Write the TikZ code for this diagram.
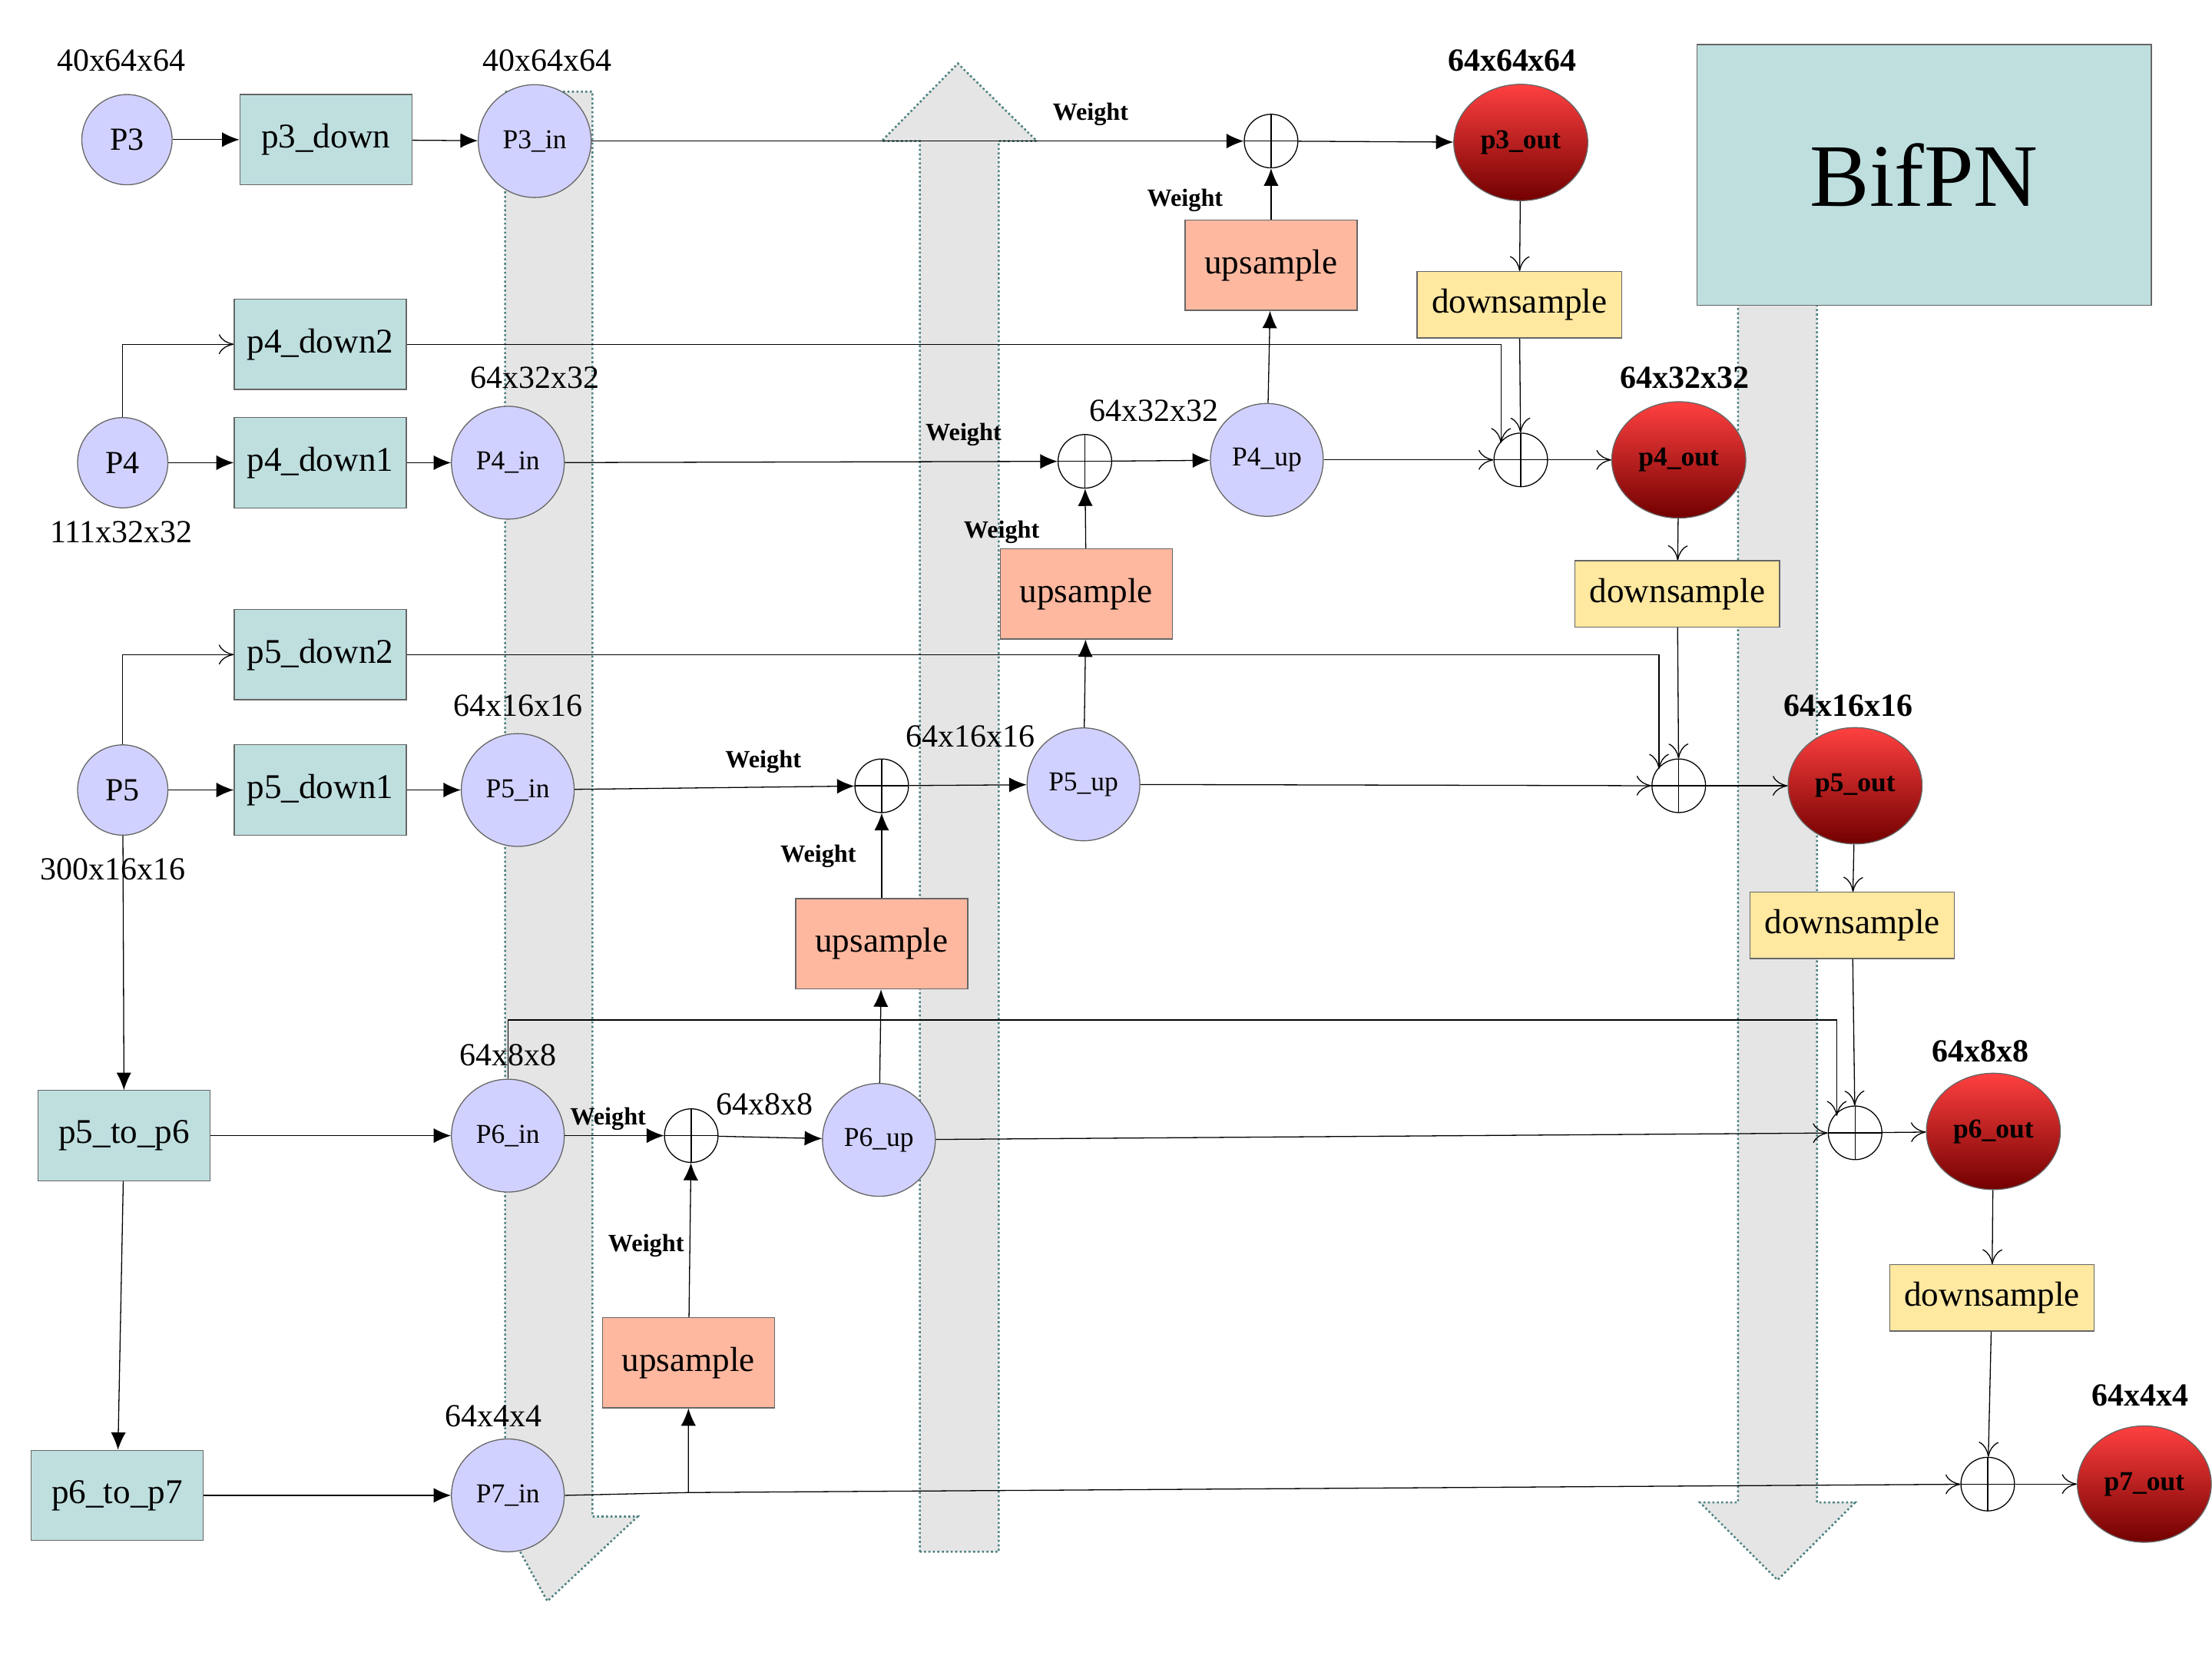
\documentclass[tikz,border=0pt]{standalone}
\usepackage{fontspec}
\setmainfont{Liberation Serif}
\usetikzlibrary{arrows.meta,shapes.geometric}
\begin{document}
\begin{tikzpicture}[x=0.02cm,y=-0.02cm,
 circ/.style={circle,draw=gray!80!black,fill=blue!18!white,minimum size=1.6cm,inner sep=0,font=\fontsize{11}{13}\selectfont},
 scirc/.style={circ,minimum size=1.28cm,font=\fontsize{13}{15}\selectfont},
 tbox/.style={draw=gray!80!black,fill=teal!25!white,minimum width=2.44cm,minimum height=1.28cm,font=\fontsize{14}{16}\selectfont},
 ubox/.style={tbox,fill={rgb,255:red,255;green,184;blue,160}},
 dbox/.style={draw=gray!80!black,fill={rgb,255:red,255;green,232;blue,160},minimum width=2.9cm,minimum height=0.94cm,font=\fontsize{14}{16}\selectfont},
 op/.style={circle,draw,minimum size=0.76cm,inner sep=0,path picture={\draw (path picture bounding box.north)--(path picture bounding box.south) (path picture bounding box.west)--(path picture bounding box.east);}},
 outn/.style={ellipse,draw=gray!80!black,top color=red!75!white,bottom color=red!45!black,minimum width=1.9cm,minimum height=1.65cm,inner sep=0,font=\bfseries\fontsize{11}{13}\selectfont},
 lab/.style={font=\fontsize{13}{15}\selectfont},
 blab/.style={font=\bfseries\fontsize{13}{15}\selectfont},
 w/.style={font=\bfseries\fontsize{10}{12}\selectfont},
 fa/.style={-{Latex[length=7pt,width=6pt]}},
 oa/.style={-{To[length=6pt,width=8pt]}},
 big/.style={fill=gray!20,draw=gray!60!teal,densely dotted,thick}]
\useasboundingbox (0,0) rectangle (1568,1176);
% big arrows
\draw[big] (358,65)--(420,65)--(420,1075)--(452,1075)--(388,1135)--(355,1075)--(358,1075)--cycle;
\draw[big] (652,1100)--(652,100)--(625,100)--(679,45)--(735,100)--(708,100)--(708,1100)--cycle;
\draw[big] (1232,215)--(1288,215)--(1288,1065)--(1315,1065)--(1260,1120)--(1205,1065)--(1232,1065)--cycle;
\node[draw=gray!80!black,fill=teal!25!white,minimum width=6.44cm,minimum height=3.7cm,font=\fontsize{36}{42}\selectfont] (bif) at (1364,124) {BifPN};
% inputs
\node[scirc] (P3) at (90,99) {P3};
\node[scirc] (P4) at (87,328) {P4};
\node[scirc] (P5) at (87,560) {P5};
\node[tbox] (p3d) at (231,99) {p3\_down};
\node[tbox] (p4d2) at (227,244) {p4\_down2};
\node[tbox] (p4d1) at (227,328) {p4\_down1};
\node[tbox] (p5d2) at (227,464) {p5\_down2};
\node[tbox] (p5d1) at (227,560) {p5\_down1};
\node[tbox] (p56) at (88,805) {p5\_to\_p6};
\node[tbox] (p67) at (83,1060) {p6\_to\_p7};
\node[circ] (P3in) at (379,100) {P3\_in};
\node[circ] (P4in) at (360,328) {P4\_in};
\node[circ] (P5in) at (367,560) {P5\_in};
\node[circ] (P6in) at (360,805) {P6\_in};
\node[circ] (P7in) at (360,1060) {P7\_in};
\node[circ] (P4up) at (898,326) {P4\_up};
\node[circ] (P5up) at (768,556) {P5\_up};
\node[circ] (P6up) at (623,808) {P6\_up};
\node[ubox] (u3) at (901,188) {upsample};
\node[ubox] (u4) at (770,421) {upsample};
\node[ubox] (u5) at (625,669) {upsample};
\node[ubox] (u6) at (488,966) {upsample};
\node[dbox] (d3) at (1077,216) {downsample};
\node[dbox] (d4) at (1189,421) {downsample};
\node[dbox] (d5) at (1313,656) {downsample};
\node[dbox] (d6) at (1412,920) {downsample};
\node[op] (a3) at (901,100) {};
\node[op] (a4) at (769,327) {};
\node[op] (a5) at (625,557) {};
\node[op] (a6) at (490,805) {};
\node[op] (b4) at (1078,326) {};
\node[op] (b5) at (1190,557) {};
\node[op] (b6) at (1315,803) {};
\node[op] (b7) at (1409,1052) {};
\node[outn] (o3) at (1078,101) {p3\_out};
\node[outn] (o4) at (1190,326) {p4\_out};
\node[outn] (o5) at (1315,557) {p5\_out};
\node[outn] (o6) at (1413,802) {p6\_out};
\node[outn] (o7) at (1520,1052) {p7\_out};
% labels
\node[lab] (l1) at (86,43) {40x64x64};
\node[lab] (l2) at (388,43) {40x64x64};
\node[lab] (l3) at (379,268) {64x32x32};
\node[lab] (l4) at (86,377) {111x32x32};
\node[lab] (l5) at (367,500) {64x16x16};
\node[lab] (l6) at (80,616) {300x16x16};
\node[lab] (l7) at (360,748) {64x8x8};
\node[lab] (l8) at (350,1004) {64x4x4};
\node[lab] (l9) at (818,291) {64x32x32};
\node[lab] (l10) at (688,522) {64x16x16};
\node[lab] (l11) at (542,783) {64x8x8};
\node[blab] (m1) at (1072,43) {64x64x64};
\node[blab] (m2) at (1194,268) {64x32x32};
\node[blab] (m3) at (1310,500) {64x16x16};
\node[blab] (m4) at (1404,745) {64x8x8};
\node[blab] (m5) at (1517,989) {64x4x4};
\node[w] (w1) at (773,81) {Weight};
\node[w] (w2) at (840,142) {Weight};
\node[w] (w3) at (683,308) {Weight};
\node[w] (w4) at (710,377) {Weight};
\node[w] (w5) at (541,540) {Weight};
\node[w] (w6) at (580,607) {Weight};
\node[w] (w7) at (431,793) {Weight};
\node[w] (w8) at (458,883) {Weight};
% edges
\draw[fa] (P3)--(p3d); \draw[fa] (p3d)--(P3in); \draw[fa] (P3in)--(a3); \draw[fa] (a3)--(o3);
\draw[fa] (u3)--(a3); \draw[fa] (P4up)--(u3);
\draw[fa] (P4)--(p4d1); \draw[fa] (p4d1)--(P4in); \draw[fa] (P4in)--(a4); \draw[fa] (a4)--(P4up);
\draw[fa] (u4)--(a4); \draw[fa] (P5up)--(u4);
\draw[fa] (P5)--(p5d1); \draw[fa] (p5d1)--(P5in); \draw[fa] (P5in)--(a5); \draw[fa] (a5)--(P5up);
\draw[fa] (u5)--(a5); \draw[fa] (P6up)--(u5);
\draw[fa] (P5)--(p56); \draw[fa] (p56)--(p67);
\draw[fa] (p56)--(P6in); \draw[fa] (p67)--(P7in);
\draw[fa] (P6in)--(a6); \draw[fa] (a6)--(P6up); \draw[fa] (u6)--(a6);
\coordinate (c7) at (488,1058);
\draw[fa] (P7in.east)--(c7)--(u6);
\coordinate (c6) at (1302,723);
\draw[oa] (P4.north)|-(p4d2);
\draw[oa] (P5.north)|-(p5d2);
\draw[oa] (p4d2)-|(1064,314);
\draw[oa] (p5d2)-|(1176,545);
\draw[oa] (P6in.north)|-(c6)--(1302,791);
\draw[oa] (o3)--(d3); \draw[oa] (d3)--(b4); \draw[oa] (P4up)--(b4); \draw[oa] (b4)--(o4);
\draw[oa] (o4)--(d4); \draw[oa] (d4)--(b5); \draw[oa] (P5up)--(b5); \draw[oa] (b5)--(o5);
\draw[oa] (o5)--(d5); \draw[oa] (d5)--(b6); \draw[oa] (P6up)--(b6); \draw[oa] (b6)--(o6);
\draw[oa] (o6)--(d6); \draw[oa] (d6)--(b7); \draw[oa] (c7)--(b7); \draw[oa] (b7)--(o7);
\end{tikzpicture}
\end{document}
